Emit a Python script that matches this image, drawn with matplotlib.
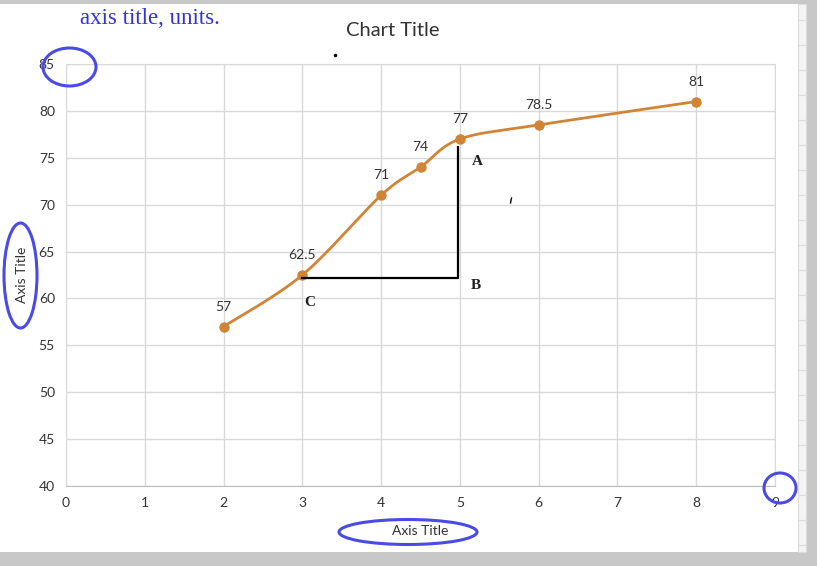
import numpy as np
import matplotlib
matplotlib.use("Agg")
import matplotlib.pyplot as plt
from matplotlib.patches import Ellipse, Rectangle

# data
x_vals = [2, 3, 4, 4.5, 5, 6, 8]
y_vals = [57, 62.5, 71, 74, 77, 78.5, 81]
point_labels = ["57", "62.5", "71", "74", "77", "78.5", "81"]
x_ticks = list(range(0, 10))
y_ticks = list(range(40, 90, 5))

# triangle drawn over the chart (A-B-C)
tri_x = [3, 4.98, 4.98]
tri_y = [62.2, 62.2, 76.2]
tri_labels = [("A", 5.22, 74.6), ("B", 5.2, 61.4), ("C", 3.1, 59.6)]

LINE = "#d08536"
GRID = "#d9d9d9"
TXT = "#333333"
BLUE = "#4a4ae8"
FONT = "Lato"


def smooth(xs, ys, n=40):
    # Catmull-Rom style smoothing like Excel's "smoothed line"
    xs = np.asarray(xs, float)
    ys = np.asarray(ys, float)
    P = np.column_stack([xs, ys])
    P = np.vstack([P[0], P, P[-1]])
    out = []
    for i in range(1, len(P) - 2):
        p0, p1, p2, p3 = P[i - 1], P[i], P[i + 1], P[i + 2]
        c1 = p1 + (p2 - p0) / 6
        c2 = p2 - (p3 - p1) / 6
        t = np.linspace(0, 1, n)[:, None]
        seg = ((1 - t) ** 3 * p1 + 3 * (1 - t) ** 2 * t * c1
               + 3 * (1 - t) * t ** 2 * c2 + t ** 3 * p2)
        out.append(seg)
    s = np.vstack(out)
    return s[:, 0], s[:, 1]


W, H = 817, 566
fig = plt.figure(figsize=(W / 100, H / 100), dpi=100)
fig.patch.set_facecolor("#c8c8c8")

# overlay in pixel coords for the page and annotations
bg = fig.add_axes([0, 0, 1, 1], zorder=0)
bg.set_xlim(0, W)
bg.set_ylim(H, 0)
bg.axis("off")
bg.add_patch(Rectangle((0, 4), 800, 548, facecolor="white", edgecolor="none"))
bg.add_patch(Rectangle((798, 4), 8, 548, facecolor="#f4f4f4", edgecolor="#dcdcdc", lw=0.8))
for yy in range(20, 552, 25):
    bg.plot([798, 806], [yy, yy], color="#dcdcdc", lw=0.8)

ax = fig.add_axes([66 / W, 1 - 486 / H, (775 - 66) / W, (486 - 64) / H], zorder=1)
ax.patch.set_alpha(0)
ax.set_xlim(0, 9)
ax.set_ylim(40, 85)
ax.set_xticks(x_ticks)
ax.set_yticks(y_ticks)
ax.grid(True, color=GRID, lw=1)
ax.set_axisbelow(True)
for sp in ax.spines.values():
    sp.set_color(GRID)
ax.spines["bottom"].set_color("#bfbfbf")
ax.tick_params(length=0, labelsize=10, labelcolor=TXT, pad=8)
for lab in ax.get_xticklabels() + ax.get_yticklabels():
    lab.set_family(FONT)

sx, sy = smooth(x_vals, y_vals)
ax.plot(sx, sy, color=LINE, lw=2, zorder=3)
ax.plot(x_vals, y_vals, "o", color=LINE, ms=6.5, zorder=4)
for xv, yv, lab in zip(x_vals, y_vals, point_labels):
    ax.annotate(lab, (xv, yv), xytext=(0, 10), textcoords="offset points",
                ha="center", va="bottom", fontsize=10, color=TXT, family=FONT)

ax.plot(tri_x, tri_y, color="black", lw=1.6, zorder=5)
for t, tx, ty in tri_labels:
    ax.text(tx, ty, t, fontsize=11, family="Liberation Serif", fontweight="bold",
            color="#202020", ha="center", va="center")

# titles in pixel coords
bg.text(393, 31, "Chart Title", ha="center", va="center", fontsize=14.5,
        color="#333333", family=FONT)
bg.text(420, 531, "Axis Title", ha="center", va="center", fontsize=10,
        color=TXT, family=FONT)
bg.text(22, 275, "Axis Title", ha="center", va="center", fontsize=10,
        color=TXT, family=FONT, rotation=90)
bg.text(150, 19, "axis title, units.", ha="center", va="center", fontsize=16.5,
        color="#3333dd", family="Liberation Serif")
bg.plot([335], [55], marker="o", ms=1.5, color="black")
bg.plot([510.5, 511.5], [203, 198], color="black", lw=1)

# hand-drawn blue ellipses
over = fig.add_axes([0, 0, 1, 1], zorder=5)
over.set_xlim(0, W)
over.set_ylim(H, 0)
over.axis("off")
for cx, cy, w, h in [(69.5, 67, 53, 38), (20.5, 275.5, 33, 105),
                     (408, 532, 138, 25), (780, 488, 32, 30)]:
    over.add_patch(Ellipse((cx, cy), w, h, facecolor="none", edgecolor=BLUE, lw=2.2))

fig.savefig("out.png", dpi=100, facecolor=fig.get_facecolor())
